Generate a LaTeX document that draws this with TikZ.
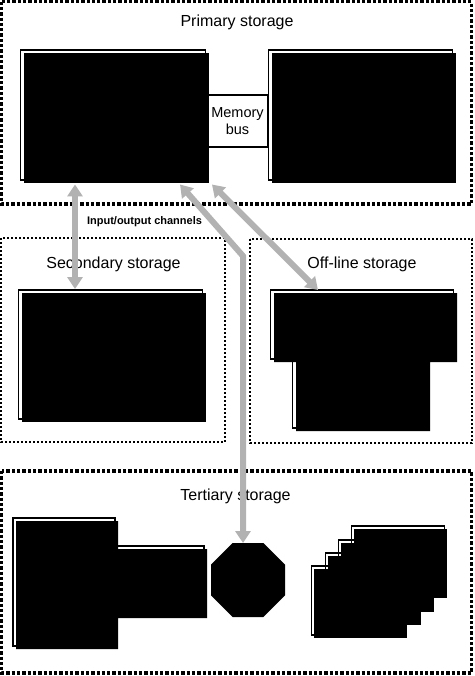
\documentclass[tikz,border=0pt]{standalone}
\usepackage{fontspec}
\setmainfont{Liberation Sans}
\usetikzlibrary{arrows.meta,shapes.geometric,fit}
\definecolor{arrgray}{RGB}{178,178,178}
\begin{document}
\begin{tikzpicture}[x=1pt,y=-1pt,
  thickdash/.style={line width=3.4pt, dash pattern=on 3.3pt off 2pt},
  thindash/.style={line width=2.2pt, dash pattern=on 2.2pt off 1.8pt},
  frameline/.style={draw=black, line width=1.2pt},
  blackbox/.style={fill=black, draw=none, inner sep=0pt, outer sep=0pt},
  title/.style={font=\fontsize{16}{19}\selectfont, inner sep=0pt},
  garrow/.style={draw=arrgray, line width=6pt,
     {Triangle[width=15pt,length=12pt]}-{Triangle[width=15pt,length=12pt]}},
]
\useasboundingbox (0,0) rectangle (474,676);
\fill[white] (0,0) rectangle (474,676);

% containers
\draw[thickdash] (1.7,1.7) rectangle (471.5,204);
\draw[thindash] (1.2,238) rectangle (225,442);
\draw[thindash] (250,239) rectangle (472,443);
\draw[thickdash] (1.7,471) rectangle (471.5,673);

% titles
\node[title] (tprim) at (237,22) {Primary storage};
\node[title] (tsec) at (113.5,264) {Secondary storage};
\node[title] (toff) at (362,264) {Off-line storage};
\node[title] (tter) at (235.5,496) {Tertiary storage};
\node[font=\fontsize{11}{13}\selectfont\bfseries, inner sep=0pt] (tio) at (144.5,222) {Input/output channels};

% memory bus
\node[draw=black, line width=1.2pt, fill=white, minimum width=61pt, minimum height=52pt,
      inner sep=0pt, align=center, font=\fontsize{14.5}{17}\selectfont] (mem) at (237.5,121) {Memory\\bus};

% primary left
\draw[frameline] (20.5,50) rectangle (205.5,180);
\node[blackbox, fit={(24,53) (209,183)}] (pl) {};
% primary right
\draw[frameline] (268.5,50) rectangle (452.5,180);
\node[blackbox, fit={(272,53) (456,183)}] (pr) {};
% secondary
\draw[frameline] (18.5,290) rectangle (202.5,419);
\node[blackbox, fit={(22,293) (206,422)}] (sec) {};

% off-line (T shape)
\draw[frameline] (270.5,290) -- (453.5,290) -- (453.5,359) -- (426.5,359) -- (426.5,428)
   -- (292.5,428) -- (292.5,359) -- (270.5,359) -- cycle;
\fill[black] (274,293) -- (457,293) -- (457,362) -- (430,362) -- (430,431)
   -- (296,431) -- (296,362) -- (274,362) -- cycle;
\coordinate (offtop) at (318,290);

% tertiary composite drive
\draw[frameline] (13,518) -- (115,518) -- (115,546) -- (204,546) -- (204,615)
   -- (115,615) -- (115,646) -- (13,646) -- cycle;
\fill[black] (16,521) -- (118,521) -- (118,549) -- (207,549) -- (207,618)
   -- (118,618) -- (118,649) -- (16,649) -- cycle;

% octagon
\node[blackbox, regular polygon, regular polygon sides=8, minimum size=80.1pt] (oct) at (248,580) {};

% stacked cards
\draw[frameline] (351.5,526) rectangle (444.5,595);
\node[blackbox, fit={(354,529) (447,598)}] (c4) {};
\draw[frameline] (338.5,540) rectangle (431.5,609);
\node[blackbox, fit={(341,543) (434,612)}] (c3) {};
\draw[frameline] (325.5,553) rectangle (418.5,622);
\node[blackbox, fit={(328,556) (421,625)}] (c2) {};
\draw[frameline] (311.5,566) rectangle (404.5,635);
\node[blackbox, fit={(314,569) (407,638)}] (c1) {};

% arrows
\coordinate (a1t) at (75,184.5);
\coordinate (a1b) at (75,289);
\coordinate (a2t) at (180,184.5);
\coordinate (a2k) at (243,256);
\coordinate (a3t) at (212,184.5);
\draw[garrow] (a1t) -- (a1b);
\draw[garrow] (a2t) -- (a2k) -- (a2k |- oct.north);
\draw[garrow] (a3t) -- (offtop);
\end{tikzpicture}
\end{document}
